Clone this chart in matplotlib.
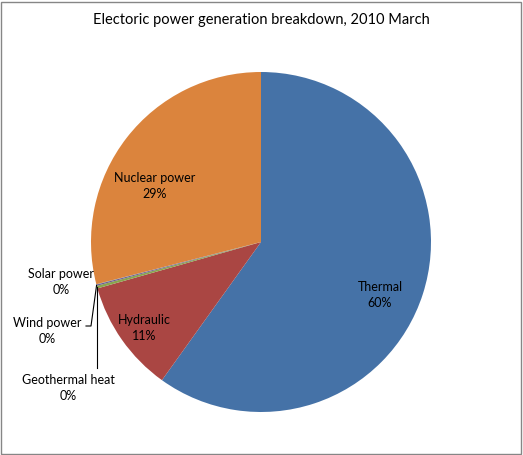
import numpy as np
import matplotlib.pyplot as plt
from matplotlib.patches import Rectangle

# data (percent of generation)
sources = ['Thermal', 'Hydraulic', 'Geothermal heat', 'Wind power', 'Solar power', 'Nuclear power']
shares = [59.9, 10.7, 0.25, 0.12, 0.03, 29.0]
pct_labels = ['60%', '11%', '0%', '0%', '0%', '29%']
colors = ['#4572A7', '#AA4643', '#89A54E', '#71588F', '#4198AF', '#DB843D']

W, H = 523, 455
plt.rcParams['font.family'] = ['Lato', 'DejaVu Sans']

fig = plt.figure(figsize=(W/100, H/100), dpi=100)
ax = fig.add_axes([0, 0, 1, 1])

cx, cy, R = 261, H-242, 170
wedges, _ = ax.pie(shares, colors=colors, startangle=90, counterclock=False,
                   center=(cx, cy), radius=R, frame=True,
                   wedgeprops=dict(linewidth=0))
ax.set_xlim(0, W)
ax.set_ylim(0, H)
ax.set_aspect('equal')
ax.axis('off')

fs = 9
# inside labels
inside = {0: (380, 295), 1: (144, 328), 5: (155, 186)}
for i, (x, y) in inside.items():
    ax.text(x, H-y, sources[i] + '\n' + pct_labels[i], ha='center', va='center',
            fontsize=fs, linespacing=1.45, color='black')

# outside labels for the tiny slices
def edge(i):
    a = np.deg2rad((wedges[i].theta1 + wedges[i].theta2)/2)
    return cx + R*np.cos(a), cy + R*np.sin(a)

ax.text(61, H-282, sources[4] + '\n' + pct_labels[4], ha='center', va='center',
        fontsize=fs, linespacing=1.45)
ax.text(47, H-331, sources[3] + '\n' + pct_labels[3], ha='center', va='center',
        fontsize=fs, linespacing=1.45)
ax.text(68, H-388, sources[2] + '\n' + pct_labels[2], ha='center', va='center',
        fontsize=fs, linespacing=1.45)

ex, ey = edge(3)
ax.plot([ex, 91, 86], [ey, H-326, H-326], color='black', lw=0.8)
ex, ey = edge(2)
ax.plot([ex, ex], [ey, H-368], color='black', lw=0.8)

ax.text(261, H-20, 'Electoric power generation breakdown, 2010 March',
        ha='center', va='center', fontsize=10.5)

ax.add_patch(Rectangle((1, 1), W-3, H-3, fill=False, edgecolor='#868686', lw=1))

fig.savefig('out.png', dpi=100)
